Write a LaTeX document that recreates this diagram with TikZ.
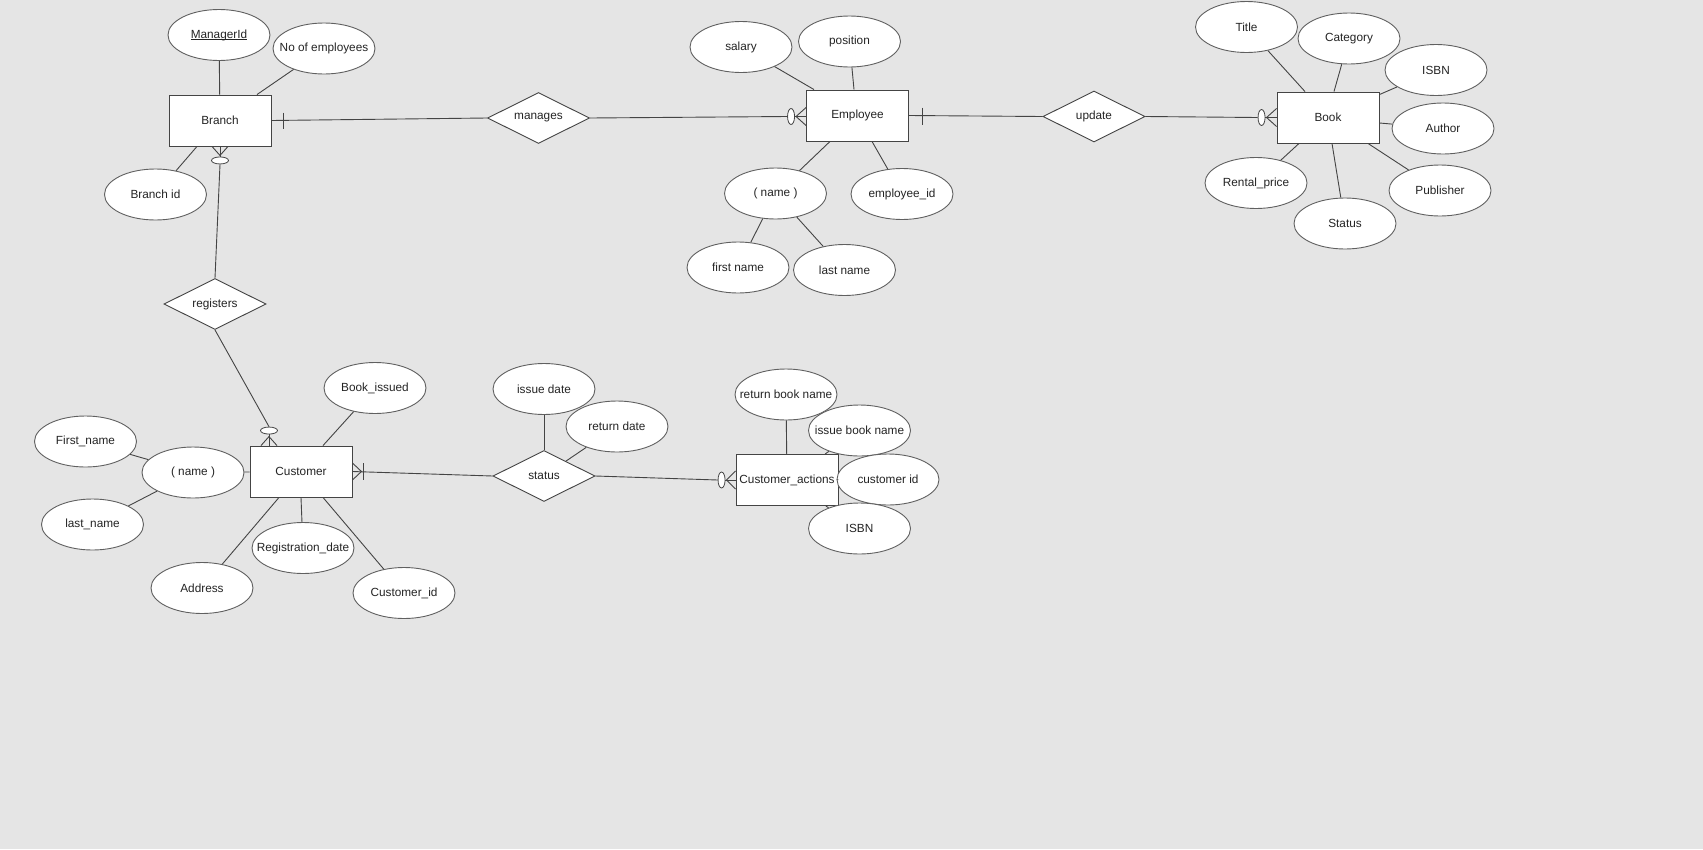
\documentclass[tikz,border=0pt]{standalone}
\usepackage{fontspec}
\setmainfont{Liberation Sans}
\usetikzlibrary{shapes.geometric}
\newcommand\zw[1]{\makebox[0pt]{#1}}
\newcommand\myul[1]{\setbox0\hbox{#1}\rlap{\rule[-1.8pt]{\wd0}{0.8pt}}\box0}
\definecolor{bgc}{RGB}{229,229,229}
\definecolor{lnc}{RGB}{68,68,68}
\definecolor{txc}{RGB}{36,36,36}
\begin{document}
\begin{tikzpicture}[x=1pt,y=-1pt,
  every node/.style={font=\fontsize{11.8}{14}\selectfont, text=txc},
  ent/.style={rectangle, draw=lnc, fill=white, line width=0.9pt, minimum width=102pt, minimum height=51pt, inner sep=0pt},
  attr/.style={ellipse, draw=lnc!85, fill=white, line width=0.9pt, minimum width=102pt, minimum height=51pt, inner sep=0pt},
  rel/.style={diamond, draw=lnc, fill=white, line width=0.9pt, minimum width=102pt, minimum height=51pt, inner sep=0pt},
  ho/.style={ellipse, draw=lnc, fill=white, line width=0.8pt, minimum width=17pt, minimum height=7pt, inner sep=0pt},
  vo/.style={ellipse, draw=lnc, fill=white, line width=0.8pt, minimum width=7pt, minimum height=16pt, inner sep=0pt},
  ln/.style={draw=lnc, line width=0.9pt}]
\fill[bgc] (0,0) rectangle (1703,849);
\useasboundingbox (0,0) rectangle (1703,849);

% Branch
\node[ent] (branch) at (220,120.5) {\zw{Branch}};
\node[attr] (mgr) at (219,35) {\zw{\myul{ManagerId}}};
\node[attr] (noemp) at (324,48.5) {\zw{No of employees}};
\node[attr] (brid) at (155.5,194.5) {\zw{Branch id}};
\node[rel] (manages) at (538.5,118) {\zw{manages}};
\node[rel] (registers) at (215,304) {\zw{registers}};

% Employee
\node[ent] (employee) at (857.5,115.5) {\zw{Employee}};
\node[attr] (salary) at (741,47) {\zw{salary}};
\node[attr] (position) at (849.5,41.5) {\zw{position}};
\node[attr] (ename) at (775.5,193.5) {\zw{( name )}};
\node[attr] (empid) at (902,194) {\zw{employee\_id}};
\node[attr] (fname) at (738,267.5) {\zw{first name}};
\node[attr] (lname) at (844.5,270) {\zw{last name}};
\node[rel] (update) at (1094,116.5) {\zw{update}};

% Book
\node[ent] (book) at (1328,117.5) {\zw{Book}};
\node[attr] (title) at (1246.5,27) {\zw{Title}};
\node[attr] (category) at (1349,38.5) {\zw{Category}};
\node[attr] (isbn) at (1436,70) {\zw{ISBN}};
\node[attr] (author) at (1443,128.5) {\zw{Author}};
\node[attr] (publisher) at (1440,190.5) {\zw{Publisher}};
\node[attr] (bstatus) at (1345,223.5) {\zw{Status}};
\node[attr] (rental) at (1256,183) {\zw{Rental\_price}};

% Customer
\node[ent] (customer) at (301,471.5) {\zw{Customer}};
\node[attr] (bookissued) at (375,388) {\zw{Book\_issued}};
\node[attr] (firstname) at (85.5,441.5) {\zw{First\_name}};
\node[attr] (cname) at (193,472.5) {\zw{( name )}};
\node[attr] (lastname) at (92.5,524.5) {\zw{last\_name}};
\node[attr] (address) at (202,588) {\zw{Address}};
\node[attr] (regdate) at (303,548) {\zw{Registration\_date}};
\node[attr] (custid) at (404,593) {\zw{Customer\_id}};

% Status
\node[rel] (status) at (544,476) {\zw{status}};
\node[attr] (issuedate) at (544,389) {\zw{issue date}};
\node[attr] (returndate) at (617,426.5) {\zw{return date}};

% Customer actions
\node[ent] (actions) at (787,480) {\zw{Customer\_actions}};
\node[attr] (rbn) at (786,394.5) {\zw{return book name}};
\node[attr] (ibn) at (859.5,430.5) {\zw{issue book name}};
\node[attr] (acustid) at (888,479.5) {\zw{customer id}};
\node[attr] (aisbn) at (859.5,528.5) {\zw{ISBN}};

% small circles of the markers
\node[ho] (bo) at ([yshift=-14pt]branch.south) {};
\node[ho] (co) at ([xshift=-32pt,yshift=15pt]customer.north) {};
\node[vo] (eo) at ([xshift=-15pt,yshift=-1pt]employee.west) {};
\node[vo] (bko) at ([xshift=-15pt]book.west) {};
\node[vo] (ao) at ([xshift=-14pt]actions.west) {};

% Branch attributes and relations
\draw[ln] (mgr) -- (branch);
\draw[ln] ([xshift=37pt]branch.north) -- (noemp);
\draw[ln] ([xshift=-23pt]branch.south) -- (brid);
\draw[ln] (branch.east) -- (manages.west);
\draw[ln] ([xshift=12pt,yshift=8pt]branch.east) -- ([xshift=12pt,yshift=-8pt]branch.east);
\draw[ln] ([xshift=-8pt]branch.south) -- ([yshift=-9pt]branch.south) -- ([xshift=8pt]branch.south);
\draw[ln] (branch.south) -- (bo.north);
\draw[ln] (bo.south) -- (registers.north);
\draw[ln] (registers.south) -- (co.north);
\draw[ln] ([xshift=-40pt]customer.north) -- ([xshift=-32pt,yshift=9pt]customer.north) -- ([xshift=-24pt]customer.north);
\draw[ln] ([xshift=-32pt]customer.north) -- (co.south);

% manages - Employee
\draw[ln] (manages.east) -- (eo.west);
\draw[ln] ([yshift=8pt]employee.west) -- ([xshift=-10pt,yshift=-1pt]employee.west) -- ([yshift=-10pt]employee.west);
\draw[ln] ([yshift=-1pt]employee.west) -- (eo.east);

% Employee attributes
\draw[ln] ([xshift=-43.5pt]employee.north) -- (salary);
\draw[ln] ([xshift=-3.5pt]employee.north) -- (position);
\draw[ln] ([xshift=-27.5pt]employee.south) -- (ename);
\draw[ln] ([xshift=14.5pt]employee.south) -- (empid);
\draw[ln] (ename) -- (fname);
\draw[ln] (ename) -- (lname);

% Employee - update - Book
\draw[ln] (employee.east) -- (update.west);
\draw[ln] ([xshift=13pt,yshift=8pt]employee.east) -- ([xshift=13pt,yshift=-9pt]employee.east);
\draw[ln] (update.east) -- (bko.west);
\draw[ln] ([yshift=9pt]book.west) -- ([xshift=-10pt]book.west) -- ([yshift=-9pt]book.west);
\draw[ln] (book.west) -- (bko.east);

% Book attributes
\draw[ln] ([xshift=-23pt]book.north) -- (title);
\draw[ln] ([xshift=6pt]book.north) -- (category);
\draw[ln] ([yshift=-3pt]book.north east) -- (isbn);
\draw[ln] ([yshift=-5.5pt]book.east) -- (author);
\draw[ln] ([xshift=40pt]book.south) -- (publisher);
\draw[ln] ([xshift=4pt]book.south) -- (bstatus);
\draw[ln] ([xshift=-29pt]book.south) -- (rental);

% Customer attributes
\draw[ln] ([xshift=22pt]customer.north) -- (bookissued);
\draw[ln] (cname) -- (customer);
\draw[ln] (firstname) -- (cname);
\draw[ln] (lastname) -- (cname);
\draw[ln] ([xshift=-22pt]customer.south) -- (address);
\draw[ln] (customer.south) -- (regdate);
\draw[ln] ([xshift=22pt]customer.south) -- (custid);

% Customer - status - Customer_actions
\draw[ln] (customer.east) -- (status.west);
\draw[ln] ([yshift=8.5pt]customer.east) -- ([xshift=9pt]customer.east) -- ([yshift=-8.5pt]customer.east);
\draw[ln] ([xshift=11pt,yshift=8.5pt]customer.east) -- ([xshift=11pt,yshift=-8.5pt]customer.east);
\draw[ln] (issuedate) -- (status);
\draw[ln] (status) -- (returndate);
\draw[ln] (status.east) -- (ao.west);
\draw[ln] ([yshift=9pt]actions.west) -- ([xshift=-9pt]actions.west) -- ([yshift=-9pt]actions.west);
\draw[ln] (actions.west) -- (ao.east);

% Customer_actions attributes
\draw[ln] (actions) -- (rbn);
\draw[ln] (actions) -- (ibn);
\draw[ln] (actions) -- (acustid);
\draw[ln] (actions) -- (aisbn);
\end{tikzpicture}
\end{document}
